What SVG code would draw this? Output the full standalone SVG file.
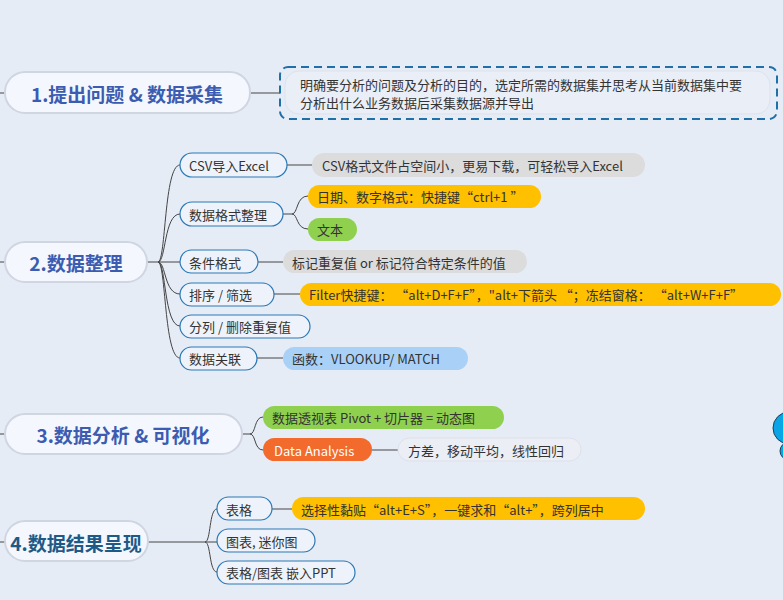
<svg xmlns="http://www.w3.org/2000/svg" width="783" height="600" viewBox="0 0 783 600">
<style>
text{font-family:"Noto Sans CJK SC","Noto Sans",sans-serif;fill:#333;font-size:13px;dominant-baseline:central}
.main rect{fill:#f5f7fe;stroke:#cfd6e2;stroke-width:2}
.main text{font-size:19px;font-weight:bold;fill:#3b5cb0}
.sub rect{fill:#eef3fb;stroke:#2a78b5;stroke-width:1.2}
.c path,.c line{fill:none;stroke:#444;stroke-width:1}
</style>
<rect width="783" height="600" fill="#e6ecf6"/>
<g class="c">
<path d="M0,93H5M0,262H5M0,434H5M0,542H5"/>
<path d="M250,93H280"/>
<path d="M147,262H158M158,262C166,262 164,165 180,165M158,262C166,262 164,214 180,214M158,262H180M158,262C166,262 164,294 180,294M158,262C166,262 164,326 180,326M158,262C166,262 164,358 180,358"/>
<path d="M283,214H292M292,214C298,214 296,196 308,196M292,214C298,214 296,229 308,229"/>
<path d="M242,434H250M250,434C256,434 254,417 263,417M250,434C256,434 254,450 263,450"/>
<path d="M148,542H205M205,542C211,542 209,509 217,509M205,542H217M205,542C211,542 209,572 217,572"/>
<path d="M287,165H312M258,262H283M274,294H300M257,358H283M372,450H398M272,509H292"/>
</g>
<g id="n1" class="main"><rect x="5" y="72" width="245" height="41" rx="20"/><text x="127" y="93" text-anchor="middle">1.提出问题 &amp; 数据采集</text></g>
<g id="n1d"><rect x="280" y="67" width="497" height="52" rx="8" fill="none" stroke="#1f6fa8" stroke-width="2" stroke-dasharray="8,5"/><rect x="285" y="71" width="485" height="43" rx="14" fill="#eaeef6" stroke="#dde2ea"/>
<text x="300" y="84">明确要分析的问题及分析的目的，选定所需的数据集并思考从当前数据集中要</text><text x="300" y="102">分析出什么业务数据后采集数据源并导出</text></g>
<g id="n2" class="main"><rect x="5" y="242" width="142" height="40" rx="20"/><text x="76" y="262" text-anchor="middle">2.数据整理</text></g>
<g id="n3" class="main"><rect x="5" y="414" width="237" height="40" rx="20"/><text x="123" y="434" text-anchor="middle">3.数据分析 &amp; 可视化</text></g>
<g id="n4" class="main"><rect x="5" y="521" width="143" height="40" rx="20"/><text x="76" y="542" text-anchor="middle" style="fill:#1d5a86">4.数据结果呈现</text></g>
<g id="s1" class="sub"><rect x="180" y="153" width="107" height="24" rx="12"/><text x="189" y="165">CSV导入Excel</text></g>
<g id="s2" class="sub"><rect x="180" y="202" width="103" height="24" rx="12"/><text x="189" y="214">数据格式整理</text></g>
<g id="s3" class="sub"><rect x="180" y="250" width="78" height="23" rx="11.5"/><text x="189" y="262">条件格式</text></g>
<g id="s4" class="sub"><rect x="180" y="283" width="94" height="23" rx="11.5"/><text x="189" y="294">排序 / 筛选</text></g>
<g id="s5" class="sub"><rect x="180" y="315" width="130" height="23" rx="11.5"/><text x="189" y="326">分列 / 删除重复值</text></g>
<g id="s6" class="sub"><rect x="180" y="347" width="77" height="23" rx="11.5"/><text x="189" y="358">数据关联</text></g>
<g id="l1"><rect x="312" y="153" width="333" height="24" rx="12" fill="#dcdcdc"/><text x="322" y="165">CSV格式文件占空间小，更易下载，可轻松导入Excel</text></g>
<g id="l2"><rect x="308" y="185" width="233" height="23" rx="11.5" fill="#ffc000"/><text x="317" y="196">日期、数字格式：快捷键“ctrl+1 ”</text></g>
<g id="l3"><rect x="308" y="218" width="49" height="23" rx="11.5" fill="#8fd14f"/><text x="317" y="229">文本</text></g>
<g id="l4"><rect x="283" y="250" width="244" height="23" rx="11.5" fill="#dcdcdc"/><text x="292" y="262">标记重复值 or 标记符合特定条件的值</text></g>
<g id="l5"><rect x="300" y="283" width="481" height="23" rx="11.5" fill="#ffc000"/><text x="309" y="294">Filter快捷键： “alt+D+F+F”，"alt+下箭头 “；冻结窗格： “alt+W+F+F”</text></g>
<g id="l6"><rect x="283" y="347" width="185" height="23" rx="11.5" fill="#a9d1f7"/><text x="292" y="358">函数：VLOOKUP/ MATCH</text></g>
<g id="s7"><rect x="263" y="406" width="241" height="23" rx="11.5" fill="#8fd14f"/><text x="272" y="417">数据透视表 Pivot + 切片器 = 动态图</text></g>
<g id="s8"><rect x="263" y="438" width="109" height="23" rx="11.5" fill="#f26a2c"/><text x="274" y="450" style="fill:#fff">Data Analysis</text></g>
<g id="l7"><rect x="398" y="438" width="183" height="23" rx="11.5" fill="#ebeef5" stroke="#dde1e8"/><text x="408" y="450">方差，移动平均，线性回归</text></g>
<g id="s9" class="sub"><rect x="217" y="497" width="55" height="23" rx="11.5"/><text x="226" y="509">表格</text></g>
<g id="s10" class="sub"><rect x="217" y="529" width="98" height="23" rx="11.5"/><text x="226" y="541">图表, 迷你图</text></g>
<g id="s11" class="sub"><rect x="217" y="561" width="138" height="23" rx="11.5"/><text x="226" y="572">表格/图表 嵌入PPT</text></g>
<g id="l8"><rect x="292" y="497" width="353" height="23" rx="11.5" fill="#ffc000"/><text x="301" y="509">选择性黏贴“alt+E+S”，一键求和“alt+”，跨列居中</text></g>
<g id="edge"><circle cx="789" cy="428" r="16" fill="#0aa5e6" stroke="#1d3f5a"/><circle cx="789" cy="451" r="9" fill="#0aa5e6" stroke="#1d3f5a"/></g>
</svg>
